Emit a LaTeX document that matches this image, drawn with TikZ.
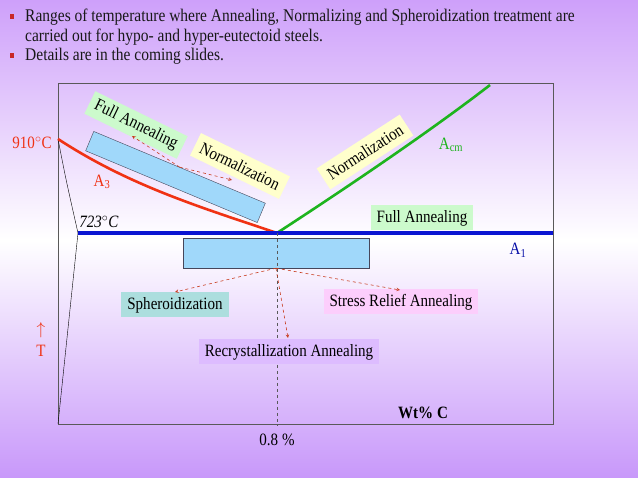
\documentclass[tikz,border=0pt]{standalone}
\usepackage{fontspec}
\setmainfont{Liberation Serif}[FakeStretch=0.87]
\definecolor{bgtop}{RGB}{206,160,250}
\definecolor{bgbot}{RGB}{200,152,250}
\definecolor{bulred}{RGB}{200,40,40}
\definecolor{a3red}{RGB}{240,50,20}
\definecolor{acmgreen}{RGB}{30,180,30}
\definecolor{a1blue}{RGB}{10,20,210}
\definecolor{boxblue}{RGB}{160,216,250}
\definecolor{boxedge}{RGB}{70,70,90}
\definecolor{arrred}{RGB}{200,60,30}
\definecolor{fagreen}{RGB}{204,250,204}
\definecolor{nyellow}{RGB}{255,255,204}
\definecolor{spteal}{RGB}{172,222,222}
\definecolor{srpink}{RGB}{252,206,252}
\definecolor{rcpurple}{RGB}{221,188,255}
\begin{document}
\begin{tikzpicture}[x=1pt, y=-1pt,
    txt/.style={font=\fontsize{17.3}{20}\selectfont},
    head/.style={anchor=west, inner sep=0pt, text=black!90, font=\fontsize{17.8}{20}\selectfont},
    bul/.style={fill=bulred, minimum width=4pt, minimum height=5pt, inner sep=0pt},
    lbl/.style={txt, inner xsep=6pt, inner ysep=0pt, minimum height=25pt},
    heat/.style={draw=boxedge, fill=boxblue, inner sep=0pt},
    darr/.style={->, >=stealth, dashed, draw=arrred, semithick},
    phase/.style={line width=2.6pt}
]
\useasboundingbox (0,0) rectangle (638,478);
\shade[top color=bgtop, bottom color=white] (0,0) rectangle (638,240);
\shade[top color=white, bottom color=bgbot] (0,240) rectangle (638,478);

\node[bul] (bul1) at (12,17) {};
\node[bul] (bul2) at (12,56) {};
\node[head] (line1) at (25,17) {Ranges of temperature where Annealing, Normalizing and Spheroidization treatment are};
\node[head] (line2) at (25,37) {carried out for hypo- and hyper-eutectoid steels.};
\node[head] (line3) at (25,56) {Details are in the coming slides.};

\draw[gray!70!black, thin] (58,83) rectangle (553,424);

\coordinate (g910) at (58,139);
\coordinate (g723) at (78,233);
\coordinate (orig) at (58,424);
\coordinate (eut)  at (277,233);
\coordinate (acm)  at (490,85);
\coordinate (a1end) at (553,233);
\coordinate (base) at (277,426);

\draw[thin] (g910) .. controls (66,180) .. (g723) -- (orig);
\draw[phase, a3red] (g910) .. controls (130,186) and (200,207) .. (eut);
\draw[phase, acmgreen] (eut) .. controls (380,166) and (450,116) .. (acm);
\draw[phase, a1blue, line width=3.3pt] (g723) -- (a1end);

\node[heat, rotate=-22.7, minimum width=186pt, minimum height=21pt] (annbox) at (175.5,177) {};
\node[heat, minimum width=186pt, minimum height=30pt] (midbox) at (276,253) {};
\draw[dashed, gray!70!black] (eut) -- (base);

\node[lbl, fill=fagreen, rotate=-26] (fa1) at (136,125) {Full Annealing};
\node[lbl, fill=nyellow, rotate=-26] (nm1) at (240,166) {Normalization};
\node[lbl, fill=nyellow, rotate=33] (nm2) at (365,152) {Normalization};
\node[lbl, fill=fagreen] (fa2) at (422,218) {Full Annealing};
\node[lbl, fill=spteal] (sph) at (175,305) {Spheroidization};
\node[lbl, fill=srpink] (srl) at (401,302) {Stress Relief Annealing};
\node[lbl, fill=rcpurple] (rcr) at (289,352) {Recrystallization Annealing};

\coordinate (tfa) at (132,136);
\coordinate (tnm) at (232,180);
\coordinate (tsph) at (175,292);
\coordinate (tsrl) at (400,290);
\coordinate (trcr) at (288,338);
\draw[darr] (annbox.north) -- (tfa);
\draw[darr] (annbox.north) -- (tnm);
\draw[darr] (midbox.south) -- (tsph);
\draw[darr] (midbox.south) -- (tsrl);
\draw[darr] (midbox.south) -- (trcr);

\node[txt, text=a3red] (t910) at (32,143) {910$^{\circ}$C};
\node[txt] (t723) at (99,222) {\textit{723$^{\circ}$C}};
\node[txt, text=a3red] (ta3) at (102,182) {A\textsubscript{3}};
\node[txt, text=acmgreen] (tacm) at (451,145) {A\textsubscript{cm}};
\node[txt, text=a1blue!80!black] (ta1) at (518,250) {A\textsubscript{1}};
\node[txt, text=a3red] (tup) at (41,330) {$\uparrow$};
\node[txt, text=a3red] (tT) at (41,351) {T};
\node[txt, font=\fontsize{17.3}{20}\selectfont\bfseries] (twt) at (423,413) {Wt\% C};
\node[txt] (t08) at (277,440) {0.8 \%};
\end{tikzpicture}
\end{document}
